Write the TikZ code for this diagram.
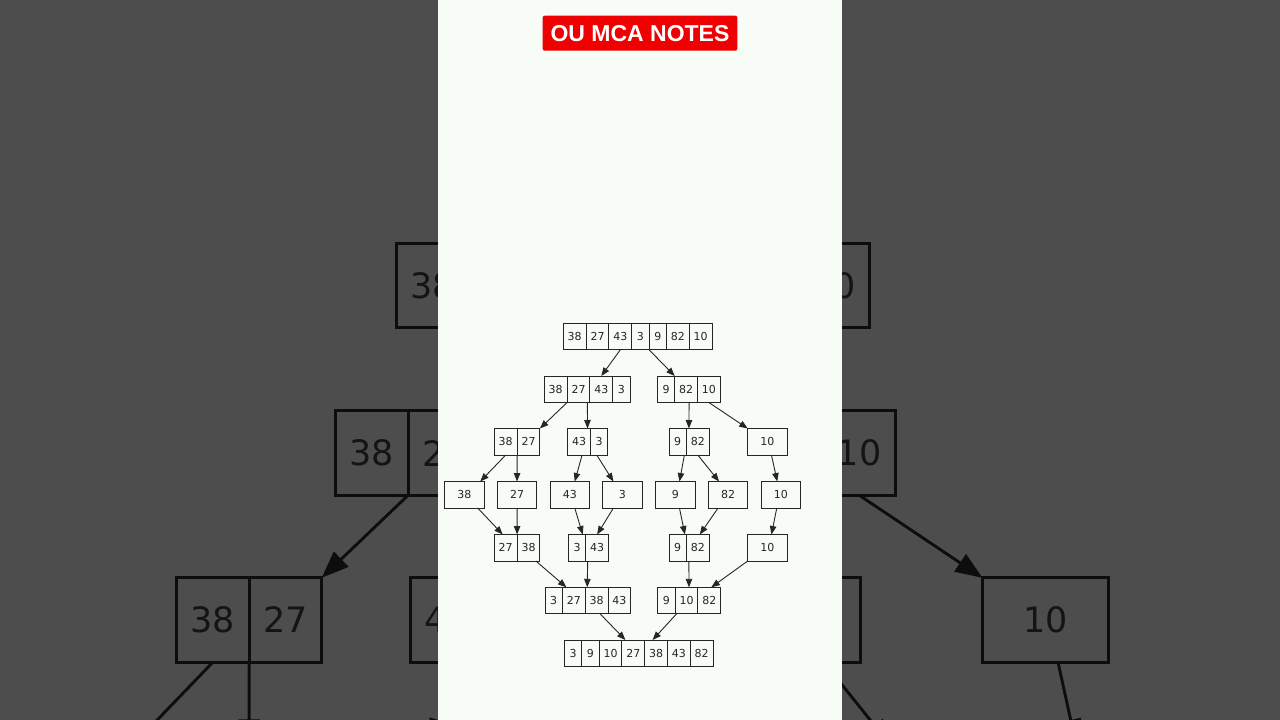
\documentclass[tikz,border=0pt]{standalone}
\usepackage{fontspec}
\usetikzlibrary{positioning,arrows.meta}
\newfontfamily\cellfont{DejaVu Sans}
\newfontfamily\titlefont{Liberation Sans}
\definecolor{panelbg}{RGB}{248,252,247}
\definecolor{sidegray}{RGB}{77,77,77}
\definecolor{titlered}{RGB}{240,0,0}
\colorlet{linecol}{black!85}
\colorlet{textcol}{black!85}
\tikzset{cell/.style={draw=linecol,text=textcol,line width=0.9pt,minimum height=26.5pt,inner sep=0pt,outer sep=0pt,font=\cellfont\fontsize{11}{13}\selectfont},
  dcell/.style={cell,minimum width=22.8pt},
  scell/.style={cell,minimum width=17.4pt},
  lone/.style={cell,minimum width=39.5pt},
  conn/.style={draw=linecol,line width=0.9pt,-{Triangle[length=8.5pt,width=6.5pt]}}}

\newcommand{\mergetree}{%
    % row 1
    \node[dcell,anchor=north west] (s1) at (563.3,323.3) {38};
    \node[dcell,right=0pt of s1] (s2) {27};
    \node[dcell,right=0pt of s2] (s3) {43};
    \node[scell,right=0pt of s3] (s4) {3};
    \node[scell,right=0pt of s4] (s5) {9};
    \node[dcell,right=0pt of s5] (s6) {82};
    \node[dcell,right=0pt of s6] (s7) {10};
    % row 2
    \node[dcell,anchor=north west] (sl1) at (544.3,376) {38};
    \node[dcell,right=0pt of sl1] (sl2) {27};
    \node[dcell,right=0pt of sl2] (sl3) {43};
    \node[scell,right=0pt of sl3] (sl4) {3};
    \node[scell,anchor=north west] (sr1) at (657.3,376) {9};
    \node[dcell,right=0pt of sr1] (sr2) {82};
    \node[dcell,right=0pt of sr2] (sr3) {10};
    % row 3
    \node[dcell,anchor=north west] (p1) at (494.3,428.5) {38};
    \node[dcell,right=0pt of p1] (p2) {27};
    \node[dcell,anchor=north west] (q1) at (567.7,428.5) {43};
    \node[scell,right=0pt of q1] (q2) {3};
    \node[scell,anchor=north west] (u1) at (669,428.5) {9};
    \node[dcell,right=0pt of u1] (u2) {82};
    \node[lone,anchor=north west] (v) at (747.7,428.5) {10};
    % row 4
    \node[lone,anchor=north west] (e38) at (444.7,481.5) {38};
    \node[lone,anchor=north west] (e27) at (497.3,481.5) {27};
    \node[lone,anchor=north west] (e43) at (550,481.5) {43};
    \node[lone,anchor=north west] (e3) at (602.7,481.5) {3};
    \node[lone,anchor=north west] (e9) at (655.7,481.5) {9};
    \node[lone,anchor=north west] (e82) at (708.3,481.5) {82};
    \node[lone,anchor=north west] (e10) at (761,481.5) {10};
    % row 5
    \node[dcell,anchor=north west] (m1) at (494.3,534.5) {27};
    \node[dcell,right=0pt of m1] (m2) {38};
    \node[scell,anchor=north west] (n1) at (568.3,534.5) {3};
    \node[dcell,right=0pt of n1] (n2) {43};
    \node[scell,anchor=north west] (o1) at (669,534.5) {9};
    \node[dcell,right=0pt of o1] (o2) {82};
    \node[lone,anchor=north west] (w) at (747.7,534.5) {10};
    % row 6
    \node[scell,anchor=north west] (h1) at (545,587.3) {3};
    \node[dcell,right=0pt of h1] (h2) {27};
    \node[dcell,right=0pt of h2] (h3) {38};
    \node[dcell,right=0pt of h3] (h4) {43};
    \node[scell,anchor=north west] (k1) at (657.7,587.3) {9};
    \node[dcell,right=0pt of k1] (k2) {10};
    \node[dcell,right=0pt of k2] (k3) {82};
    % row 7
    \node[scell,anchor=north west] (f1) at (564.3,640) {3};
    \node[scell,right=0pt of f1] (f2) {9};
    \node[dcell,right=0pt of f2] (f3) {10};
    \node[dcell,right=0pt of f3] (f4) {27};
    \node[dcell,right=0pt of f4] (f5) {38};
    \node[dcell,right=0pt of f5] (f6) {43};
    \node[dcell,right=0pt of f6] (f7) {82};
    % split
    \draw[conn] (s3.south) -- (sl3.north);
    \draw[conn] (s4.south east) -- (sr2.north west);
    \draw[conn] (sl1.south east) -- (p2.north east);
    \draw[conn] ([xshift=-2.5pt]sl2.south east) -- ([xshift=-3pt]q1.north east);
    \draw[conn] ([xshift=3pt]sr2.south) -- ([xshift=2.5pt]u2.north west);
    \draw[conn] (sr3.south) -- (v.north west);
    \draw[conn] (p1.south) -- ([xshift=-4pt]e38.north east);
    \draw[conn] (p1.south east) -- (e27.north);
    \draw[conn] ([xshift=3pt]q1.south) -- ([xshift=5pt]e43.north);
    \draw[conn] ([xshift=-2.5pt]q2.south) -- ([xshift=-9pt]e3.north);
    \draw[conn] ([xshift=-2pt]u1.south east) -- ([xshift=4pt]e9.north);
    \draw[conn] (u2.south) -- ([xshift=-9pt]e82.north);
    \draw[conn] ([xshift=4pt]v.south) -- ([xshift=-3.5pt]e10.north);
    % merge
    \draw[conn] ([xshift=-6.5pt]e38.south east) -- ([xshift=-3pt]m1.north);
    \draw[conn] (e27.south) -- (m1.north east);
    \draw[conn] ([xshift=5pt]e43.south) -- ([xshift=-3pt]n1.north east);
    \draw[conn] ([xshift=-9pt]e3.south) -- (n2.north);
    \draw[conn] ([xshift=4pt]e9.south) -- ([xshift=-1.5pt]o1.north east);
    \draw[conn] ([xshift=-10pt]e82.south) -- ([xshift=2pt]o2.north);
    \draw[conn] ([xshift=-4pt]e10.south) -- ([xshift=4pt]w.north);
    \draw[conn] ([xshift=-4pt]m2.south east) -- ([xshift=4pt]h2.north west);
    \draw[conn] ([xshift=2pt]n2.south west) -- ([xshift=2pt]h3.north west);
    \draw[conn] ([xshift=2.5pt]o2.south west) -- ([xshift=2.5pt]k2.north);
    \draw[conn] (w.south west) -- ([xshift=2pt]k3.north);
    \draw[conn] ([xshift=3.5pt]h3.south) -- ([xshift=3.5pt]f4.north west);
    \draw[conn] ([xshift=1.5pt]k2.south west) -- ([xshift=-3.5pt]f5.north);
}

\begin{document}
\begin{tikzpicture}[x=1pt,y=-1pt]
    \useasboundingbox (0,0) rectangle (1280,720);
    \fill[sidegray] (0,0) rectangle (1280,720);
    % enlarged copy behind, on both sides
    \begin{scope}
        \clip (0,0) rectangle (438,720) (842,0) rectangle (1280,720);
        \colorlet{linecol}{black!95}
        \colorlet{textcol}{black!92}
        \begin{scope}[name prefix=bg-,transform canvas={shift={(640,360)},scale=3.18,shift={(-640,-360)}}]
            \mergetree
        \end{scope}
    \end{scope}
    \fill[panelbg] (438,0) rectangle (842,720);
    \mergetree
    \node[fill=titlered,rounded corners=2pt,minimum width=194.6pt,minimum height=35pt,inner sep=0pt,text=white,font=\titlefont\bfseries\fontsize{23}{27}\selectfont] (title) at (640,33.2) {OU MCA NOTES};
\end{tikzpicture}
\end{document}
